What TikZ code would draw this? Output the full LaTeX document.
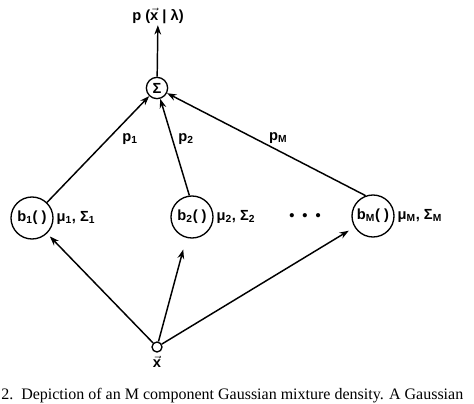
\documentclass[tikz,border=0pt]{standalone}
\usepackage{amsmath}
\usepackage{fontspec}
\setmainfont{Liberation Sans}
\newfontfamily\capfont{Liberation Serif}
\usetikzlibrary{shapes,arrows,arrows.meta,positioning}

\newcommand{\vx}{$\vec{\text{x}}$}

\begin{document}
\begin{tikzpicture}[x=0.75pt, y=-0.75pt, font=\bfseries\fontsize{11}{13}\selectfont]
    \tikzstyle{unit} = [circle, draw=black, line width=1pt, minimum size=31.5pt, inner sep=0pt]
    \tikzstyle{sum} = [circle, draw=black, line width=1pt, minimum size=16pt, inner sep=0pt]
    \tikzstyle{lbl} = [inner sep=1pt]
    \tikzstyle{arrow} = [->,>={Stealth[length=7pt,width=5pt]}, line width=1.1pt]

    \useasboundingbox (0,0) rectangle (474,403);
    \clip (0,0) rectangle (474,403);

    \node [sum] (sigma) at (157,88) {Σ};
    \node [lbl] (out) at (158,16) {p (\vx\ | λ)};

    \node [unit] (b1) at (32,218) {b\textsubscript{1}( )};
    \node [unit] (b2) at (192,217) {b\textsubscript{2}( )};
    \node [unit] (bM) at (373,216) {b\textsubscript{M}( )};
    \node [lbl, right=1pt of b1] (m1) {μ\textsubscript{1}, Σ\textsubscript{1}};
    \node [lbl, right=1pt of b2] (m2) {μ\textsubscript{2}, Σ\textsubscript{2}};
    \node [lbl, right=1pt of bM] (mM) {μ\textsubscript{M}, Σ\textsubscript{M}};
    \node [lbl] (dots) at (305,217) {•\hspace{6pt}•\hspace{6pt}•};

    \node [circle, draw=black, line width=1pt, minimum size=7.5pt, inner sep=0pt] (x) at (157,347) {};
    \node [lbl, below=1pt of x] (xlab) {\vx};

    \draw [arrow] (sigma) -- (out);
    \draw [arrow] (b1) -- node [lbl, pos=.6, right=9pt] {p\textsubscript{1}} (sigma);
    \draw [arrow] (b2.97) -- node [lbl, pos=.585, right=3pt] {p\textsubscript{2}} (sigma);
    \draw [arrow] (bM.110) -- node [lbl, pos=.44, above=4pt] {p\textsubscript{M}} (sigma);
    \draw [arrow, shorten >=3pt] (x) -- (b1);
    \draw [arrow, shorten >=9pt] (x) -- (b2);
    \draw [arrow, shorten >=5pt] (x) -- (bM);

    % caption, cut off at the right
    \node [anchor=base west, inner sep=0pt, font=\capfont\fontsize{12}{14}\selectfont] (cap) at (1,399)
        {2.\ \ Depiction of an M component Gaussian mixture density. A Gaussian};
\end{tikzpicture}
\end{document}
